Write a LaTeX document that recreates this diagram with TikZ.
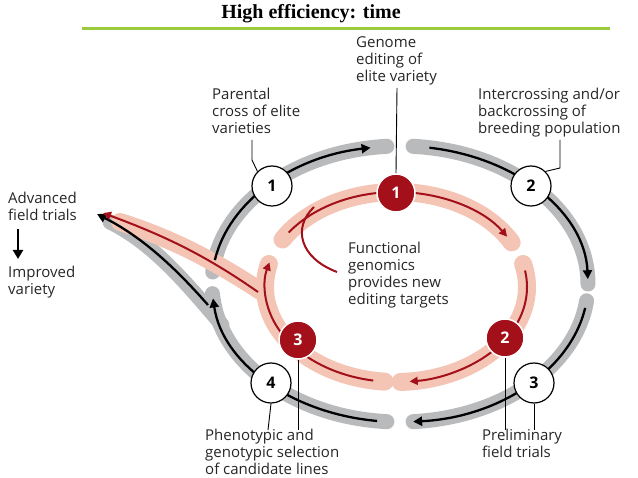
\documentclass[tikz,border=0pt]{standalone}
\usepackage{fontspec}
\setmainfont{Open Sans}
\newfontfamily\titlefont{Liberation Serif}
\usetikzlibrary{arrows.meta}
\definecolor{band}{HTML}{B9BABC}
\definecolor{pinkb}{HTML}{F4C4B5}
\definecolor{dred}{HTML}{A3101A}
\definecolor{tgreen}{HTML}{9BCB3C}
\begin{document}
\begin{tikzpicture}[x=1pt,y=1pt,
  gband/.style={band,line width=15pt,line cap=round},
  barr/.style={black,line width=2.3pt,-{Triangle[length=9pt,width=9pt]}},
  pband/.style={pinkb,line width=18pt,line cap=round},
  rarr/.style={dred,line width=2pt,-{Triangle[length=8pt,width=8pt]}},
  wc/.style={circle,draw=black,line width=1.2pt,fill=white,minimum size=40pt,inner sep=0pt,font=\bfseries\fontsize{16}{16}\selectfont},
  rc/.style={circle,draw=white,line width=1.5pt,fill=dred,text=white,minimum size=38pt,inner sep=0pt,font=\bfseries\fontsize{16}{16}\selectfont},
  lbl/.style={align=left,anchor=north west,inner sep=0pt,font=\fontsize{15}{17}\selectfont,text=black!85},
  call/.style={black,line width=0.9pt}]
\useasboundingbox (0,0) rectangle (638,-478);
% title
\node[font=\titlefont\bfseries\fontsize{20}{20}\selectfont] (title) at (311,-14) {High efficiency: time};
\draw[tgreen,line width=3pt] (82,-29) -- (610,-29);
% outer gray bands
\coordinate (O) at (400,-284);
\draw[gband] (O) ++(175:188 and 138) arc[start angle=175,end angle=94,x radius=188,y radius=138];
\draw[gband] (O) ++(86:188 and 138) arc[start angle=86,end angle=0,x radius=188,y radius=138];
\draw[gband] (O) ++(-7:188 and 138) arc[start angle=-7,end angle=-86,x radius=188,y radius=138];
\draw[gband] (O) ++(-94:188 and 138) arc[start angle=-94,end angle=-176,x radius=188,y radius=138];
\coordinate (bs) at (208,-305);
\coordinate (bt) at (97,-214);
\draw[gband] (222,-325) .. controls (180,-275) and (150,-242) .. (110,-222);
% inner pink bands
\coordinate (I) at (396,-287);
\draw[pband] (I) ++(150:131 and 95) arc[start angle=150,end angle=28,x radius=131,y radius=95];
\draw[pband] (I) ++(14:131 and 95) arc[start angle=14,end angle=-88,x radius=131,y radius=95];
\draw[pband] (I) ++(-95:131 and 95) arc[start angle=-95,end angle=-194,x radius=131,y radius=95];
\draw[pband] (262,-292) .. controls (210,-258) and (170,-238) .. (120,-222);
% black arrows
\draw[barr] (O) ++(170:188 and 138) arc[start angle=170,end angle=99,x radius=188,y radius=138];
\draw[barr] (O) ++(81:188 and 138) arc[start angle=81,end angle=2,x radius=188,y radius=138];
\draw[barr] (O) ++(-10:188 and 138) arc[start angle=-10,end angle=-86,x radius=188,y radius=138];
\draw[barr] (O) ++(-97:188 and 138) arc[start angle=-97,end angle=-174,x radius=188,y radius=138];
\draw[barr] (bs) .. controls (172,-264) and (140,-236) .. (bt);
% red arrows
\draw[rarr] (I) ++(145:131 and 95) arc[start angle=145,end angle=32,x radius=131,y radius=95];
\draw[rarr] (I) ++(10:131 and 95) arc[start angle=10,end angle=-84,x radius=131,y radius=95];
\draw[rarr] (I) ++(-100:131 and 95) arc[start angle=-100,end angle=-195,x radius=131,y radius=95];
\coordinate (rs) at (258,-292);
\coordinate (rt) at (103,-213);
\draw[rarr] (rs) .. controls (205,-255) and (165,-236) .. (rt);
\coordinate (fg) at (337,-272);
\coordinate (fe) at (314,-207);
\draw[dred,line width=2pt] (fg) .. controls (300,-258) and (292,-228) .. (fe);
% circles
\node[wc] (w1) at (272,-186) {1};
\node[wc] (w2) at (531,-186) {2};
\node[wc] (w3) at (534,-383) {3};
\node[wc] (w4) at (271,-383) {4};
\node[rc] (r1) at (396,-193) {1};
\node[rc] (r2) at (505,-338) {2};
\node[rc] (r3) at (298,-340) {3};
% labels
\node[lbl] (lg) at (356,-36) {Genome\\editing of\\elite variety};
\node[lbl] (lp) at (212,-88) {Parental\\cross of elite\\varieties};
\node[lbl] (li) at (478,-88) {Intercrossing and/or\\backcrossing of\\breeding population};
\node[lbl] (la) at (8,-192) {Advanced\\field trials};
\node[lbl] (lv) at (8,-266) {Improved\\variety};
\node[lbl] (lf) at (348,-242) {Functional\\genomics\\provides new\\editing targets};
\node[lbl] (ls) at (205,-429) {Phenotypic and\\genotypic selection\\of candidate lines};
\node[lbl] (lpr) at (482,-429) {Preliminary\\field trials};
\draw[black,line width=2.3pt,-{Triangle[length=9pt,width=10pt]}] (18,-229) -- (18,-259);
% callouts
\draw[call] (397,-88) -- (r1.north);
\draw[call] (252,-140) -- (252,-160) -- (w1.north west);
\draw[call] (560,-140) -- (560,-168) -- (w2.north east);
\draw[call] (w4.south) -- (268,-430);
\draw[call] (r3.south) -- (298,-430);
\draw[call] (r2.south) -- (505,-430);
\draw[call] (w3.south) -- (534,-430);
\end{tikzpicture}
\end{document}
